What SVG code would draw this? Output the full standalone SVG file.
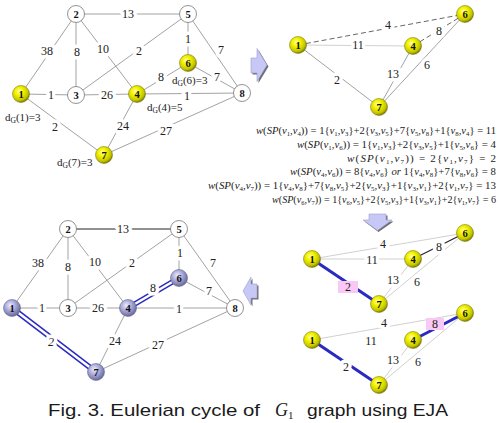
<svg xmlns="http://www.w3.org/2000/svg" width="500" height="423" viewBox="0 0 500 423">
<defs>
<radialGradient id="gy" cx="0.4" cy="0.35" r="0.65">
<stop offset="0" stop-color="#ffffb0"/><stop offset="0.35" stop-color="#f4f400"/><stop offset="0.8" stop-color="#c4c400"/><stop offset="1" stop-color="#7c7c00"/>
</radialGradient>
<radialGradient id="gp" cx="0.4" cy="0.35" r="0.65">
<stop offset="0" stop-color="#eeeeff"/><stop offset="0.4" stop-color="#b4b4e2"/><stop offset="1" stop-color="#6a6a9a"/>
</radialGradient>
<style>
.e{stroke:#8a8a8a;stroke-width:0.8;fill:none}
.lt{stroke:#c4c4c4;stroke-width:0.8;fill:none}
.dk{stroke:#222;stroke-width:1.2;fill:none}
.ds{stroke:#555;stroke-width:0.9;stroke-dasharray:5,3;fill:none}
.bl{stroke:#2a2ac0;stroke-width:3;fill:none}
.dbo{stroke:#2a2ac0;stroke-width:5.5;fill:none}
.dbi{stroke:#fff;stroke-width:2.5;fill:none}
.el{font-family:'Liberation Serif','Times New Roman','DejaVu Serif',serif;font-size:12px;fill:#222;text-anchor:middle;stroke:#fff;stroke-width:7;stroke-linejoin:round;paint-order:stroke}
.pk{fill:#f9c8f4}
.w circle{fill:#fff;stroke:#777;stroke-width:0.8}
.y circle{fill:url(#gy);stroke:#6a6a00;stroke-width:0.5}
.p circle{fill:url(#gp);stroke:#55557a;stroke-width:0.5}
.nt{font-family:'Liberation Serif','Times New Roman','DejaVu Serif',serif;font-size:10.5px;font-weight:bold;fill:#111;text-anchor:middle}
.dg{font-family:'Liberation Serif','Times New Roman','DejaVu Serif',serif;font-size:11px;fill:#222}
.dg .s{font-size:7.5px;baseline-shift:-2px}
.eq{font-family:'Liberation Serif','Times New Roman','DejaVu Serif',serif;font-size:11px;fill:#222}
.eq .i{font-style:italic}
.eq .s{font-size:7px;baseline-shift:-1.8px}
.ar{fill:#c8c8f6;stroke:#9c9cd4;stroke-width:0.6}
.sh{fill:#6e6e6e}
.cap{font-family:'Liberation Sans',Arial,sans-serif;font-size:17px;fill:#1a1a1a}
</style>
</defs>
<rect width="500" height="423" fill="#fff"/>

<!-- Top-left graph -->
<g id="tl-edges">
<line class="e" x1="76" y1="14" x2="188" y2="14"/>
<line class="e" x1="76" y1="14" x2="21" y2="94"/>
<line class="e" x1="76" y1="14" x2="76" y2="95"/>
<line class="e" x1="76" y1="14" x2="137" y2="94"/>
<line class="e" x1="76" y1="95" x2="188" y2="14"/>
<line class="e" x1="188" y1="14" x2="188" y2="63"/>
<line class="e" x1="188" y1="14" x2="242" y2="93"/>
<line class="e" x1="137" y1="94" x2="188" y2="63"/>
<line class="e" x1="188" y1="63" x2="242" y2="93"/>
<line class="e" x1="21" y1="94" x2="76" y2="95"/>
<line class="e" x1="76" y1="95" x2="137" y2="94"/>
<line class="e" x1="137" y1="94" x2="242" y2="93"/>
<line class="e" x1="21" y1="94" x2="104" y2="155"/>
<line class="e" x1="137" y1="94" x2="104" y2="155"/>
<line class="e" x1="104" y1="155" x2="242" y2="93"/>
<text class="el" x="128" y="18">13</text>
<text class="el" x="47" y="55">38</text>
<text class="el" x="77" y="56">8</text>
<text class="el" x="103" y="53">10</text>
<text class="el" x="139" y="55">2</text>
<text class="el" x="188" y="43">1</text>
<text class="el" x="221" y="54">7</text>
<text class="el" x="161" y="81">8</text>
<text class="el" x="217" y="81">7</text>
<text class="el" x="51" y="99">1</text>
<text class="el" x="107" y="99">26</text>
<text class="el" x="187" y="100">1</text>
<text class="el" x="55" y="131">2</text>
<text class="el" x="123" y="130">24</text>
<text class="el" x="166" y="135">27</text>
</g>
<g id="tl-n1" class="y"><circle cx="21" cy="94" r="8.5"/><text class="nt" x="21" y="97.5">1</text></g>
<g id="tl-n2" class="w"><circle cx="76" cy="14" r="8.5"/><text class="nt" x="76" y="17.5">2</text></g>
<g id="tl-n3" class="w"><circle cx="76" cy="95" r="8.5"/><text class="nt" x="76" y="98.5">3</text></g>
<g id="tl-n4" class="y"><circle cx="137" cy="94" r="8.5"/><text class="nt" x="137" y="97.5">4</text></g>
<g id="tl-n5" class="w"><circle cx="188" cy="14" r="8.5"/><text class="nt" x="188" y="17.5">5</text></g>
<g id="tl-n6" class="y"><circle cx="188" cy="63" r="8.5"/><text class="nt" x="188" y="66.5">6</text></g>
<g id="tl-n7" class="y"><circle cx="104" cy="155" r="8.5"/><text class="nt" x="104" y="158.5">7</text></g>
<g id="tl-n8" class="w"><circle cx="242" cy="93" r="8.5"/><text class="nt" x="242" y="96.5">8</text></g>
<g id="tl-degrees">
<text class="dg" x="5" y="121">d<tspan class="s">G</tspan>(1)=3</text>
<text class="dg" x="172" y="84">d<tspan class="s">G</tspan>(6)=3</text>
<text class="dg" x="147" y="111">d<tspan class="s">G</tspan>(4)=5</text>
<text class="dg" x="57" y="166">d<tspan class="s">G</tspan>(7)=3</text>
</g>

<!-- arrows -->
<g id="arrow-right">
<polygon class="sh" points="252.5,59.5 258.5,59.5 258.5,50 268.5,66.5 258.5,83 258.5,74.5 252.5,74.5"/>
<polygon class="ar" points="251,58 257,58 257,48.5 267,65 257,81.5 257,73 251,73"/>
</g>
<g id="arrow-down">
<polygon class="sh" points="370.5,215.5 387.5,215.5 387.5,221.5 393.5,221.5 378.5,232 364.5,221.5 370.5,221.5"/>
<polygon class="ar" points="369,214 386,214 386,220 392,220 377.5,230.5 363,220 369,220"/>
</g>
<g id="arrow-left">
<polygon class="sh" points="258.5,285.5 252.5,285.5 252.5,278.5 244.5,292.5 252.5,306.5 252.5,299.5 258.5,299.5"/>
<polygon class="ar" points="257,284 251,284 251,277 243,291 251,305 251,298 257,298"/>
</g>

<!-- Top-right graph -->
<g id="tr-edges">
<line class="ds" x1="298" y1="45" x2="465" y2="14"/>
<line class="ds" x1="413" y1="46" x2="465" y2="14"/>
<line class="lt" x1="298" y1="45" x2="413" y2="46"/>
<line class="e" x1="298" y1="45" x2="379" y2="107"/>
<line class="e" x1="413" y1="46" x2="379" y2="107"/>
<line class="e" x1="465" y1="14" x2="379" y2="107"/>
<text class="el" x="388" y="29">4</text>
<text class="el" x="439" y="35">8</text>
<text class="el" x="358" y="49">11</text>
<text class="el" x="337" y="84">2</text>
<text class="el" x="393" y="78">13</text>
<text class="el" x="427" y="69">6</text>
</g>
<g id="tr-n1" class="y"><circle cx="298" cy="45" r="8.5"/><text class="nt" x="298" y="48.5">1</text></g>
<g id="tr-n4" class="y"><circle cx="413" cy="46" r="8.5"/><text class="nt" x="413" y="49.5">4</text></g>
<g id="tr-n6" class="y"><circle cx="465" cy="14" r="8.5"/><text class="nt" x="465" y="17.5">6</text></g>
<g id="tr-n7" class="y"><circle cx="379" cy="107" r="8.5"/><text class="nt" x="379" y="110.5">7</text></g>

<!-- Equations -->
<g id="equations">
<text class="eq" x="256" y="134" textLength="240" lengthAdjust="spacingAndGlyphs"><tspan class="i">w</tspan>(<tspan class="i">SP</tspan>(<tspan class="i">v</tspan><tspan class="s">1</tspan>,<tspan class="i">v</tspan><tspan class="s">4</tspan>)) = 1{<tspan class="i">v</tspan><tspan class="s">1</tspan>,<tspan class="i">v</tspan><tspan class="s">3</tspan>}+2{<tspan class="i">v</tspan><tspan class="s">3</tspan>,<tspan class="i">v</tspan><tspan class="s">5</tspan>}+7{<tspan class="i">v</tspan><tspan class="s">5</tspan>,<tspan class="i">v</tspan><tspan class="s">8</tspan>}+1{<tspan class="i">v</tspan><tspan class="s">8</tspan>,<tspan class="i">v</tspan><tspan class="s">4</tspan>} = 11</text>
<text class="eq" x="297" y="148" textLength="199" lengthAdjust="spacingAndGlyphs"><tspan class="i">w</tspan>(<tspan class="i">SP</tspan>(<tspan class="i">v</tspan><tspan class="s">1</tspan>,<tspan class="i">v</tspan><tspan class="s">6</tspan>)) = 1{<tspan class="i">v</tspan><tspan class="s">1</tspan>,<tspan class="i">v</tspan><tspan class="s">3</tspan>}+2{<tspan class="i">v</tspan><tspan class="s">3</tspan>,<tspan class="i">v</tspan><tspan class="s">5</tspan>}+1{<tspan class="i">v</tspan><tspan class="s">5</tspan>,<tspan class="i">v</tspan><tspan class="s">6</tspan>} = 4</text>
<text class="eq" x="347" y="162" textLength="149" lengthAdjust="spacing"><tspan class="i">w</tspan>(<tspan class="i">SP</tspan>(<tspan class="i">v</tspan><tspan class="s">1</tspan>,<tspan class="i">v</tspan><tspan class="s">7</tspan>)) = 2{<tspan class="i">v</tspan><tspan class="s">1</tspan>,<tspan class="i">v</tspan><tspan class="s">7</tspan>} = 2</text>
<text class="eq" x="290" y="175" textLength="206" lengthAdjust="spacingAndGlyphs"><tspan class="i">w</tspan>(<tspan class="i">SP</tspan>(<tspan class="i">v</tspan><tspan class="s">4</tspan>,<tspan class="i">v</tspan><tspan class="s">6</tspan>)) = 8{<tspan class="i">v</tspan><tspan class="s">4</tspan>,<tspan class="i">v</tspan><tspan class="s">6</tspan>} <tspan class="i">or</tspan> 1{<tspan class="i">v</tspan><tspan class="s">4</tspan>,<tspan class="i">v</tspan><tspan class="s">8</tspan>}+7{<tspan class="i">v</tspan><tspan class="s">8</tspan>,<tspan class="i">v</tspan><tspan class="s">6</tspan>} = 8</text>
<text class="eq" x="208" y="188.5" textLength="288" lengthAdjust="spacingAndGlyphs"><tspan class="i">w</tspan>(<tspan class="i">SP</tspan>(<tspan class="i">v</tspan><tspan class="s">4</tspan>,<tspan class="i">v</tspan><tspan class="s">7</tspan>)) = 1{<tspan class="i">v</tspan><tspan class="s">4</tspan>,<tspan class="i">v</tspan><tspan class="s">8</tspan>}+7{<tspan class="i">v</tspan><tspan class="s">8</tspan>,<tspan class="i">v</tspan><tspan class="s">5</tspan>}+2{<tspan class="i">v</tspan><tspan class="s">5</tspan>,<tspan class="i">v</tspan><tspan class="s">3</tspan>}+1{<tspan class="i">v</tspan><tspan class="s">3</tspan>,<tspan class="i">v</tspan><tspan class="s">1</tspan>}+2{<tspan class="i">v</tspan><tspan class="s">1</tspan>,<tspan class="i">v</tspan><tspan class="s">7</tspan>} = 13</text>
<text class="eq" x="272" y="202.5" textLength="224" lengthAdjust="spacingAndGlyphs"><tspan class="i">w</tspan>(<tspan class="i">SP</tspan>(<tspan class="i">v</tspan><tspan class="s">6</tspan>,<tspan class="i">v</tspan><tspan class="s">7</tspan>)) = 1{<tspan class="i">v</tspan><tspan class="s">6</tspan>,<tspan class="i">v</tspan><tspan class="s">5</tspan>}+2{<tspan class="i">v</tspan><tspan class="s">5</tspan>,<tspan class="i">v</tspan><tspan class="s">3</tspan>}+1{<tspan class="i">v</tspan><tspan class="s">3</tspan>,<tspan class="i">v</tspan><tspan class="s">1</tspan>}+2{<tspan class="i">v</tspan><tspan class="s">1</tspan>,<tspan class="i">v</tspan><tspan class="s">7</tspan>} = 6</text>
</g>

<!-- Bottom-left graph -->
<g id="bl-edges">
<line class="dk" x1="68" y1="229" x2="179" y2="229"/>
<line class="e" x1="68" y1="229" x2="12" y2="308"/>
<line class="e" x1="68" y1="229" x2="68" y2="308"/>
<line class="e" x1="68" y1="229" x2="128" y2="308"/>
<line class="e" x1="68" y1="308" x2="179" y2="229"/>
<line class="e" x1="179" y1="229" x2="179" y2="278"/>
<line class="e" x1="179" y1="229" x2="235" y2="308"/>
<line class="e" x1="179" y1="278" x2="235" y2="308"/>
<line class="e" x1="12" y1="308" x2="68" y2="308"/>
<line class="e" x1="68" y1="308" x2="128" y2="308"/>
<line class="e" x1="128" y1="308" x2="235" y2="308"/>
<line class="e" x1="128" y1="308" x2="96" y2="372"/>
<line class="e" x1="96" y1="372" x2="235" y2="308"/>
<line class="dbo" x1="128" y1="308" x2="179" y2="278"/>
<line class="dbi" x1="128" y1="308" x2="179" y2="278"/>
<line class="dbo" x1="12" y1="308" x2="96" y2="372"/>
<line class="dbi" x1="12" y1="308" x2="96" y2="372"/>
<text class="el" x="123" y="233">13</text>
<text class="el" x="38" y="267">38</text>
<text class="el" x="68" y="271">8</text>
<text class="el" x="95" y="266">10</text>
<text class="el" x="132" y="267">2</text>
<text class="el" x="180" y="257">1</text>
<text class="el" x="213" y="267">7</text>
<text class="el" x="153" y="292">8</text>
<text class="el" x="209" y="295">7</text>
<text class="el" x="42" y="312">1</text>
<text class="el" x="98" y="312">26</text>
<text class="el" x="179" y="313">1</text>
<text class="el" x="51" y="346" font-style="italic">2</text>
<text class="el" x="115" y="345">24</text>
<text class="el" x="158" y="349">27</text>
</g>
<g id="bl-n1" class="p"><circle cx="12" cy="308" r="8.5"/><text class="nt" x="12" y="311.5">1</text></g>
<g id="bl-n2" class="w"><circle cx="68" cy="229" r="8.5"/><text class="nt" x="68" y="232.5">2</text></g>
<g id="bl-n3" class="w"><circle cx="68" cy="308" r="8.5"/><text class="nt" x="68" y="311.5">3</text></g>
<g id="bl-n4" class="p"><circle cx="128" cy="308" r="8.5"/><text class="nt" x="128" y="311.5">4</text></g>
<g id="bl-n5" class="w"><circle cx="179" cy="229" r="8.5"/><text class="nt" x="179" y="232.5">5</text></g>
<g id="bl-n6" class="p"><circle cx="179" cy="278" r="8.5"/><text class="nt" x="179" y="281.5">6</text></g>
<g id="bl-n7" class="p"><circle cx="96" cy="372" r="8.5"/><text class="nt" x="96" y="375.5">7</text></g>
<g id="bl-n8" class="w"><circle cx="235" cy="308" r="8.5"/><text class="nt" x="235" y="311.5">8</text></g>

<!-- Bottom-right graph 1 -->
<g id="br1-edges">
<line class="lt" x1="312" y1="259" x2="465" y2="233"/>
<line class="dk" x1="413" y1="259" x2="465" y2="233"/>
<line class="lt" x1="312" y1="259" x2="413" y2="259"/>
<line class="lt" x1="413" y1="259" x2="379" y2="304"/>
<line class="lt" x1="465" y1="233" x2="379" y2="304"/>
<line class="bl" x1="312" y1="259" x2="379" y2="304"/>
<text class="el" x="383" y="248">4</text>
<text class="el" x="439" y="251">8</text>
<text class="el" x="372" y="264">11</text>
<text class="el" x="393" y="284">13</text>
<text class="el" x="417" y="286">6</text>
<rect class="pk" x="338" y="281" width="20" height="12"/>
<text class="el" x="348" y="291" style="stroke:none">2</text>
</g>
<g id="br1-n1" class="y"><circle cx="312" cy="259" r="8.5"/><text class="nt" x="312" y="262.5">1</text></g>
<g id="br1-n4" class="y"><circle cx="413" cy="259" r="8.5"/><text class="nt" x="413" y="262.5">4</text></g>
<g id="br1-n6" class="y"><circle cx="465" cy="233" r="8.5"/><text class="nt" x="465" y="236.5">6</text></g>
<g id="br1-n7" class="y"><circle cx="379" cy="304" r="8.5"/><text class="nt" x="379" y="307.5">7</text></g>

<!-- Bottom-right graph 2 -->
<g id="br2-edges">
<line class="lt" x1="312" y1="340" x2="465" y2="313"/>
<line class="lt" x1="413" y1="340" x2="379" y2="385"/>
<line class="lt" x1="465" y1="313" x2="379" y2="385"/>
<line class="bl" x1="312" y1="340" x2="379" y2="385"/>
<line class="bl" x1="413" y1="340" x2="465" y2="313"/>
<text class="el" x="384" y="327">4</text>
<text class="el" x="371" y="345">11</text>
<text class="el" x="346" y="371">2</text>
<text class="el" x="393" y="364">13</text>
<text class="el" x="418" y="366">6</text>
<rect class="pk" x="426" y="318" width="18" height="12"/>
<text class="el" x="435" y="328" style="stroke:none">8</text>
</g>
<g id="br2-n1" class="y"><circle cx="312" cy="340" r="8.5"/><text class="nt" x="312" y="343.5">1</text></g>
<g id="br2-n4" class="y"><circle cx="413" cy="340" r="8.5"/><text class="nt" x="413" y="343.5">4</text></g>
<g id="br2-n6" class="y"><circle cx="465" cy="313" r="8.5"/><text class="nt" x="465" y="316.5">6</text></g>
<g id="br2-n7" class="y"><circle cx="379" cy="385" r="8.5"/><text class="nt" x="379" y="388.5">7</text></g>

<!-- Caption -->
<g id="caption">
<text class="cap" x="48" y="416" textLength="212" lengthAdjust="spacingAndGlyphs">Fig. 3. Eulerian cycle of</text>
<text x="275" y="416" font-family="'Liberation Serif',serif" font-style="italic" font-size="18" fill="#1a1a1a">G<tspan font-style="normal" font-size="11" dy="3">1</tspan></text>
<text class="cap" x="307" y="416" textLength="141" lengthAdjust="spacingAndGlyphs">graph using EJA</text>
</g>
</svg>
